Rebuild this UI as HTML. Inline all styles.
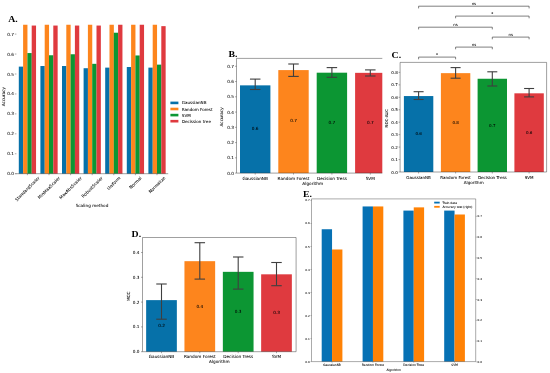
<!DOCTYPE html>
<html lang="en">
<head>
<meta charset="utf-8">
<title>Figure</title>
<style>
html,body{margin:0;padding:0;background:#fff;}
svg{display:block;}
text.s{font-family:"DejaVu Sans","Liberation Sans",sans-serif;stroke:#000;stroke-width:0.05px;text-rendering:geometricPrecision;}
text.b{font-family:"Liberation Serif","DejaVu Serif",serif;font-weight:bold;}
</style>
</head>
<body>
<svg width="550" height="373" viewBox="0 0 550 373">
<rect x="0" y="0" width="550" height="373" fill="#ffffff"/>
<g>
<g id="panelA">
<rect x="18.80" y="66.62" width="4.35" height="107.08" fill="#0671a9"/>
<rect x="23.10" y="24.75" width="4.35" height="148.95" fill="#fd851d"/>
<rect x="27.40" y="53.06" width="4.35" height="120.64" fill="#0c9633"/>
<rect x="31.70" y="25.55" width="4.35" height="148.15" fill="#df3a3f"/>
<rect x="40.40" y="66.02" width="4.35" height="107.68" fill="#0671a9"/>
<rect x="44.70" y="24.75" width="4.35" height="148.95" fill="#fd851d"/>
<rect x="49.00" y="55.26" width="4.35" height="118.44" fill="#0c9633"/>
<rect x="53.30" y="25.55" width="4.35" height="148.15" fill="#df3a3f"/>
<rect x="62.00" y="66.02" width="4.35" height="107.68" fill="#0671a9"/>
<rect x="66.30" y="24.75" width="4.35" height="148.95" fill="#fd851d"/>
<rect x="70.60" y="54.26" width="4.35" height="119.44" fill="#0c9633"/>
<rect x="74.90" y="25.55" width="4.35" height="148.15" fill="#df3a3f"/>
<rect x="83.60" y="68.22" width="4.35" height="105.48" fill="#0671a9"/>
<rect x="87.90" y="24.75" width="4.35" height="148.95" fill="#fd851d"/>
<rect x="92.20" y="63.83" width="4.35" height="109.87" fill="#0c9633"/>
<rect x="96.50" y="25.55" width="4.35" height="148.15" fill="#df3a3f"/>
<rect x="105.20" y="67.62" width="4.35" height="106.08" fill="#0671a9"/>
<rect x="109.50" y="24.75" width="4.35" height="148.95" fill="#fd851d"/>
<rect x="113.80" y="32.72" width="4.35" height="140.98" fill="#0c9633"/>
<rect x="118.10" y="24.75" width="4.35" height="148.95" fill="#df3a3f"/>
<rect x="126.80" y="67.02" width="4.35" height="106.68" fill="#0671a9"/>
<rect x="131.10" y="24.75" width="4.35" height="148.95" fill="#fd851d"/>
<rect x="135.40" y="55.46" width="4.35" height="118.24" fill="#0c9633"/>
<rect x="139.70" y="24.75" width="4.35" height="148.95" fill="#df3a3f"/>
<rect x="148.40" y="67.62" width="4.35" height="106.08" fill="#0671a9"/>
<rect x="152.70" y="24.75" width="4.35" height="148.95" fill="#fd851d"/>
<rect x="157.00" y="64.63" width="4.35" height="109.07" fill="#0c9633"/>
<rect x="161.30" y="26.14" width="4.35" height="147.56" fill="#df3a3f"/>
<line x1="15.50" y1="173.70" x2="168.20" y2="173.70" stroke="#2a2a2a" stroke-width="0.45"/>
<line x1="14.90" y1="173.70" x2="16.40" y2="173.70" stroke="#2a2a2a" stroke-width="0.4"/>
<text class="s" x="14.00" y="175.20" font-size="4.2" text-anchor="end" fill="#000">0.0</text>
<line x1="14.90" y1="153.76" x2="16.40" y2="153.76" stroke="#2a2a2a" stroke-width="0.4"/>
<text class="s" x="14.00" y="155.26" font-size="4.2" text-anchor="end" fill="#000">0.1</text>
<line x1="14.90" y1="133.82" x2="16.40" y2="133.82" stroke="#2a2a2a" stroke-width="0.4"/>
<text class="s" x="14.00" y="135.32" font-size="4.2" text-anchor="end" fill="#000">0.2</text>
<line x1="14.90" y1="113.88" x2="16.40" y2="113.88" stroke="#2a2a2a" stroke-width="0.4"/>
<text class="s" x="14.00" y="115.38" font-size="4.2" text-anchor="end" fill="#000">0.3</text>
<line x1="14.90" y1="93.94" x2="16.40" y2="93.94" stroke="#2a2a2a" stroke-width="0.4"/>
<text class="s" x="14.00" y="95.44" font-size="4.2" text-anchor="end" fill="#000">0.4</text>
<line x1="14.90" y1="74.00" x2="16.40" y2="74.00" stroke="#2a2a2a" stroke-width="0.4"/>
<text class="s" x="14.00" y="75.50" font-size="4.2" text-anchor="end" fill="#000">0.5</text>
<line x1="14.90" y1="54.06" x2="16.40" y2="54.06" stroke="#2a2a2a" stroke-width="0.4"/>
<text class="s" x="14.00" y="55.56" font-size="4.2" text-anchor="end" fill="#000">0.6</text>
<line x1="14.90" y1="34.12" x2="16.40" y2="34.12" stroke="#2a2a2a" stroke-width="0.4"/>
<text class="s" x="14.00" y="35.62" font-size="4.2" text-anchor="end" fill="#000">0.7</text>
<text class="s" x="4.90" y="96.70" font-size="4.2" text-anchor="middle" fill="#000" transform="rotate(-90 4.90 96.70)">Accuracy</text>
<line x1="27.40" y1="173.70" x2="27.40" y2="175.20" stroke="#2a2a2a" stroke-width="0.4"/>
<text class="s" x="39.90" y="178.40" font-size="4.25" text-anchor="end" fill="#000" transform="rotate(-45 39.90 178.40)">StandardScaler</text>
<line x1="49.00" y1="173.70" x2="49.00" y2="175.20" stroke="#2a2a2a" stroke-width="0.4"/>
<text class="s" x="60.43" y="178.40" font-size="4.25" text-anchor="end" fill="#000" transform="rotate(-45 60.43 178.40)">MinMaxScaler</text>
<line x1="70.60" y1="173.70" x2="70.60" y2="175.20" stroke="#2a2a2a" stroke-width="0.4"/>
<text class="s" x="82.13" y="178.40" font-size="4.25" text-anchor="end" fill="#000" transform="rotate(-45 82.13 178.40)">MaxAbsScaler</text>
<line x1="92.20" y1="173.70" x2="92.20" y2="175.20" stroke="#2a2a2a" stroke-width="0.4"/>
<text class="s" x="103.03" y="178.40" font-size="4.25" text-anchor="end" fill="#000" transform="rotate(-45 103.03 178.40)">RobustScaler</text>
<line x1="113.80" y1="173.70" x2="113.80" y2="175.20" stroke="#2a2a2a" stroke-width="0.4"/>
<text class="s" x="120.77" y="178.40" font-size="4.25" text-anchor="end" fill="#000" transform="rotate(-45 120.77 178.40)">Uniform</text>
<line x1="135.40" y1="173.70" x2="135.40" y2="175.20" stroke="#2a2a2a" stroke-width="0.4"/>
<text class="s" x="141.84" y="178.40" font-size="4.25" text-anchor="end" fill="#000" transform="rotate(-45 141.84 178.40)">Normal</text>
<line x1="157.00" y1="173.70" x2="157.00" y2="175.20" stroke="#2a2a2a" stroke-width="0.4"/>
<text class="s" x="165.57" y="178.40" font-size="4.25" text-anchor="end" fill="#000" transform="rotate(-45 165.57 178.40)">Normalize</text>
<text class="s" x="92.00" y="206.80" font-size="4.2" text-anchor="middle" fill="#000">Scaling method</text>
<rect x="170.40" y="101.60" width="8.00" height="2.60" fill="#0671a9"/>
<text class="s" x="181.80" y="104.40" font-size="4.1" text-anchor="start" fill="#000">GaussianNB</text>
<rect x="170.40" y="107.70" width="8.00" height="2.60" fill="#fd851d"/>
<text class="s" x="181.80" y="110.50" font-size="4.1" text-anchor="start" fill="#000">Random Forest</text>
<rect x="170.40" y="113.80" width="8.00" height="2.60" fill="#0c9633"/>
<text class="s" x="181.80" y="116.60" font-size="4.1" text-anchor="start" fill="#000">SVM</text>
<rect x="170.40" y="119.90" width="8.00" height="2.60" fill="#df3a3f"/>
<text class="s" x="181.80" y="122.70" font-size="4.1" text-anchor="start" fill="#000">Decission tree</text>
<text class="b" font-size="8.6" fill="#000" transform="translate(8.20 21.80) scale(1.14 1)">A.</text>
</g>
<g id="panelB">
<rect x="240.00" y="85.36" width="30.40" height="87.74" fill="#0671a9"/>
<line x1="255.20" y1="79.10" x2="255.20" y2="89.50" stroke="#3f3f3f" stroke-width="1.1"/>
<line x1="249.95" y1="79.10" x2="260.45" y2="79.10" stroke="#3f3f3f" stroke-width="1.1"/>
<line x1="249.95" y1="89.50" x2="260.45" y2="89.50" stroke="#3f3f3f" stroke-width="1.1"/>
<text class="s" x="255.20" y="130.03" font-size="4.2" text-anchor="middle" fill="#000">0.6</text>
<line x1="255.20" y1="173.10" x2="255.20" y2="174.60" stroke="#2a2a2a" stroke-width="0.4"/>
<text class="s" x="255.20" y="179.80" font-size="4.23" text-anchor="middle" fill="#000">GaussianNB</text>
<rect x="278.30" y="70.09" width="30.40" height="103.01" fill="#fd851d"/>
<line x1="293.50" y1="64.00" x2="293.50" y2="76.40" stroke="#3f3f3f" stroke-width="1.1"/>
<line x1="288.25" y1="64.00" x2="298.75" y2="64.00" stroke="#3f3f3f" stroke-width="1.1"/>
<line x1="288.25" y1="76.40" x2="298.75" y2="76.40" stroke="#3f3f3f" stroke-width="1.1"/>
<text class="s" x="293.50" y="122.40" font-size="4.2" text-anchor="middle" fill="#000">0.7</text>
<line x1="293.50" y1="173.10" x2="293.50" y2="174.60" stroke="#2a2a2a" stroke-width="0.4"/>
<text class="s" x="293.50" y="179.80" font-size="4.23" text-anchor="middle" fill="#000">Random Forest</text>
<rect x="316.70" y="72.69" width="30.40" height="100.41" fill="#0c9633"/>
<line x1="331.90" y1="67.60" x2="331.90" y2="77.30" stroke="#3f3f3f" stroke-width="1.1"/>
<line x1="326.65" y1="67.60" x2="337.15" y2="67.60" stroke="#3f3f3f" stroke-width="1.1"/>
<line x1="326.65" y1="77.30" x2="337.15" y2="77.30" stroke="#3f3f3f" stroke-width="1.1"/>
<text class="s" x="331.90" y="123.69" font-size="4.2" text-anchor="middle" fill="#000">0.7</text>
<line x1="331.90" y1="173.10" x2="331.90" y2="174.60" stroke="#2a2a2a" stroke-width="0.4"/>
<text class="s" x="331.90" y="179.80" font-size="4.23" text-anchor="middle" fill="#000">Decision Tress</text>
<rect x="355.10" y="72.84" width="27.20" height="100.26" fill="#df3a3f"/>
<line x1="370.30" y1="69.90" x2="370.30" y2="76.00" stroke="#3f3f3f" stroke-width="1.1"/>
<line x1="365.05" y1="69.90" x2="375.55" y2="69.90" stroke="#3f3f3f" stroke-width="1.1"/>
<line x1="365.05" y1="76.00" x2="375.55" y2="76.00" stroke="#3f3f3f" stroke-width="1.1"/>
<text class="s" x="370.30" y="123.77" font-size="4.2" text-anchor="middle" fill="#000">0.7</text>
<line x1="370.30" y1="173.10" x2="370.30" y2="174.60" stroke="#2a2a2a" stroke-width="0.4"/>
<text class="s" x="370.30" y="179.80" font-size="4.23" text-anchor="middle" fill="#000">SVM</text>
<line x1="236.50" y1="58.40" x2="382.30" y2="58.40" stroke="#2a2a2a" stroke-width="0.45"/>
<line x1="236.50" y1="173.10" x2="382.30" y2="173.10" stroke="#2a2a2a" stroke-width="0.45"/>
<line x1="236.50" y1="58.40" x2="236.50" y2="173.10" stroke="#2a2a2a" stroke-width="0.45"/>
<line x1="235.00" y1="173.10" x2="236.50" y2="173.10" stroke="#2a2a2a" stroke-width="0.4"/>
<text class="s" x="234.00" y="174.65" font-size="4.2" text-anchor="end" fill="#000">0.0</text>
<line x1="235.00" y1="157.84" x2="236.50" y2="157.84" stroke="#2a2a2a" stroke-width="0.4"/>
<text class="s" x="234.00" y="159.39" font-size="4.2" text-anchor="end" fill="#000">0.1</text>
<line x1="235.00" y1="142.58" x2="236.50" y2="142.58" stroke="#2a2a2a" stroke-width="0.4"/>
<text class="s" x="234.00" y="144.13" font-size="4.2" text-anchor="end" fill="#000">0.2</text>
<line x1="235.00" y1="127.32" x2="236.50" y2="127.32" stroke="#2a2a2a" stroke-width="0.4"/>
<text class="s" x="234.00" y="128.87" font-size="4.2" text-anchor="end" fill="#000">0.3</text>
<line x1="235.00" y1="112.06" x2="236.50" y2="112.06" stroke="#2a2a2a" stroke-width="0.4"/>
<text class="s" x="234.00" y="113.61" font-size="4.2" text-anchor="end" fill="#000">0.4</text>
<line x1="235.00" y1="96.80" x2="236.50" y2="96.80" stroke="#2a2a2a" stroke-width="0.4"/>
<text class="s" x="234.00" y="98.35" font-size="4.2" text-anchor="end" fill="#000">0.5</text>
<line x1="235.00" y1="81.54" x2="236.50" y2="81.54" stroke="#2a2a2a" stroke-width="0.4"/>
<text class="s" x="234.00" y="83.09" font-size="4.2" text-anchor="end" fill="#000">0.6</text>
<line x1="235.00" y1="66.28" x2="236.50" y2="66.28" stroke="#2a2a2a" stroke-width="0.4"/>
<text class="s" x="234.00" y="67.83" font-size="4.2" text-anchor="end" fill="#000">0.7</text>
<text class="s" x="222.80" y="116.90" font-size="4.2" text-anchor="middle" fill="#000" transform="rotate(-90 222.80 116.90)">Accuracy</text>
<text class="s" x="312.70" y="185.20" font-size="4.23" text-anchor="middle" fill="#000">Algorithm</text>
<text class="b" font-size="8.6" fill="#000" transform="translate(228.40 56.80) scale(1.14 1)">B.</text>
</g>
<g id="panelC">
<rect x="403.90" y="96.06" width="29.40" height="75.94" fill="#0671a9"/>
<line x1="418.60" y1="91.70" x2="418.60" y2="99.50" stroke="#3f3f3f" stroke-width="1.1"/>
<line x1="413.60" y1="91.70" x2="423.60" y2="91.70" stroke="#3f3f3f" stroke-width="1.1"/>
<line x1="413.60" y1="99.50" x2="423.60" y2="99.50" stroke="#3f3f3f" stroke-width="1.1"/>
<text class="s" x="418.60" y="135.43" font-size="4.05" text-anchor="middle" fill="#000">0.6</text>
<line x1="418.60" y1="172.00" x2="418.60" y2="173.50" stroke="#2a2a2a" stroke-width="0.4"/>
<text class="s" x="418.60" y="178.80" font-size="4.07" text-anchor="middle" fill="#000">GaussianNB</text>
<rect x="440.90" y="73.15" width="29.40" height="98.85" fill="#fd851d"/>
<line x1="455.60" y1="67.60" x2="455.60" y2="78.20" stroke="#3f3f3f" stroke-width="1.1"/>
<line x1="450.60" y1="67.60" x2="460.60" y2="67.60" stroke="#3f3f3f" stroke-width="1.1"/>
<line x1="450.60" y1="78.20" x2="460.60" y2="78.20" stroke="#3f3f3f" stroke-width="1.1"/>
<text class="s" x="455.60" y="123.97" font-size="4.05" text-anchor="middle" fill="#000">0.8</text>
<line x1="455.60" y1="172.00" x2="455.60" y2="173.50" stroke="#2a2a2a" stroke-width="0.4"/>
<text class="s" x="455.60" y="178.80" font-size="4.07" text-anchor="middle" fill="#000">Random Forest</text>
<rect x="477.60" y="78.75" width="29.40" height="93.25" fill="#0c9633"/>
<line x1="492.30" y1="71.80" x2="492.30" y2="86.00" stroke="#3f3f3f" stroke-width="1.1"/>
<line x1="487.30" y1="71.80" x2="497.30" y2="71.80" stroke="#3f3f3f" stroke-width="1.1"/>
<line x1="487.30" y1="86.00" x2="497.30" y2="86.00" stroke="#3f3f3f" stroke-width="1.1"/>
<text class="s" x="492.30" y="126.77" font-size="4.05" text-anchor="middle" fill="#000">0.7</text>
<line x1="492.30" y1="172.00" x2="492.30" y2="173.50" stroke="#2a2a2a" stroke-width="0.4"/>
<text class="s" x="492.30" y="178.80" font-size="4.07" text-anchor="middle" fill="#000">Decision Tress</text>
<rect x="514.40" y="93.32" width="29.40" height="78.68" fill="#df3a3f"/>
<line x1="529.10" y1="88.50" x2="529.10" y2="96.90" stroke="#3f3f3f" stroke-width="1.1"/>
<line x1="524.10" y1="88.50" x2="534.10" y2="88.50" stroke="#3f3f3f" stroke-width="1.1"/>
<line x1="524.10" y1="96.90" x2="534.10" y2="96.90" stroke="#3f3f3f" stroke-width="1.1"/>
<text class="s" x="529.10" y="134.06" font-size="4.05" text-anchor="middle" fill="#000">0.6</text>
<line x1="529.10" y1="172.00" x2="529.10" y2="173.50" stroke="#2a2a2a" stroke-width="0.4"/>
<text class="s" x="529.10" y="178.80" font-size="4.07" text-anchor="middle" fill="#000">SVM</text>
<line x1="400.10" y1="62.40" x2="546.60" y2="62.40" stroke="#2a2a2a" stroke-width="0.45"/>
<line x1="400.10" y1="172.00" x2="546.60" y2="172.00" stroke="#2a2a2a" stroke-width="0.45"/>
<line x1="400.10" y1="62.40" x2="400.10" y2="172.00" stroke="#2a2a2a" stroke-width="0.45"/>
<line x1="546.60" y1="62.40" x2="546.60" y2="172.00" stroke="#2a2a2a" stroke-width="0.45"/>
<line x1="398.60" y1="172.00" x2="400.10" y2="172.00" stroke="#2a2a2a" stroke-width="0.4"/>
<text class="s" x="397.80" y="173.50" font-size="4.05" text-anchor="end" fill="#000">0.0</text>
<line x1="398.60" y1="159.55" x2="400.10" y2="159.55" stroke="#2a2a2a" stroke-width="0.4"/>
<text class="s" x="397.80" y="161.05" font-size="4.05" text-anchor="end" fill="#000">0.1</text>
<line x1="398.60" y1="147.10" x2="400.10" y2="147.10" stroke="#2a2a2a" stroke-width="0.4"/>
<text class="s" x="397.80" y="148.60" font-size="4.05" text-anchor="end" fill="#000">0.2</text>
<line x1="398.60" y1="134.65" x2="400.10" y2="134.65" stroke="#2a2a2a" stroke-width="0.4"/>
<text class="s" x="397.80" y="136.15" font-size="4.05" text-anchor="end" fill="#000">0.3</text>
<line x1="398.60" y1="122.20" x2="400.10" y2="122.20" stroke="#2a2a2a" stroke-width="0.4"/>
<text class="s" x="397.80" y="123.70" font-size="4.05" text-anchor="end" fill="#000">0.4</text>
<line x1="398.60" y1="109.75" x2="400.10" y2="109.75" stroke="#2a2a2a" stroke-width="0.4"/>
<text class="s" x="397.80" y="111.25" font-size="4.05" text-anchor="end" fill="#000">0.5</text>
<line x1="398.60" y1="97.30" x2="400.10" y2="97.30" stroke="#2a2a2a" stroke-width="0.4"/>
<text class="s" x="397.80" y="98.80" font-size="4.05" text-anchor="end" fill="#000">0.6</text>
<line x1="398.60" y1="84.85" x2="400.10" y2="84.85" stroke="#2a2a2a" stroke-width="0.4"/>
<text class="s" x="397.80" y="86.35" font-size="4.05" text-anchor="end" fill="#000">0.7</text>
<line x1="398.60" y1="72.40" x2="400.10" y2="72.40" stroke="#2a2a2a" stroke-width="0.4"/>
<text class="s" x="397.80" y="73.90" font-size="4.05" text-anchor="end" fill="#000">0.8</text>
<text class="s" x="387.90" y="118.10" font-size="4.0" text-anchor="middle" fill="#000" transform="rotate(-90 387.90 118.10)">ROC-AUC</text>
<text class="s" x="473.70" y="183.60" font-size="4.07" text-anchor="middle" fill="#000">Algorithm</text>
<text class="b" font-size="8.6" fill="#000" transform="translate(391.60 57.90) scale(1.14 1)">C.</text>
<path d="M418.60 8.40V6.20H529.10V8.40" fill="none" stroke="#3a3a3a" stroke-width="0.65"/>
<text class="s" x="473.85" y="4.80" font-size="3.8" text-anchor="middle" fill="#000">ns</text>
<path d="M455.60 18.30V16.10H529.10V18.30" fill="none" stroke="#3a3a3a" stroke-width="0.65"/>
<text class="s" x="492.35" y="14.90" font-size="4.0" text-anchor="middle" fill="#000">*</text>
<path d="M418.60 29.40V27.20H492.30V29.40" fill="none" stroke="#3a3a3a" stroke-width="0.65"/>
<text class="s" x="455.45" y="25.80" font-size="3.8" text-anchor="middle" fill="#000">ns</text>
<path d="M492.30 39.30V37.10H529.10V39.30" fill="none" stroke="#3a3a3a" stroke-width="0.65"/>
<text class="s" x="510.70" y="35.70" font-size="3.8" text-anchor="middle" fill="#000">ns</text>
<path d="M455.60 49.30V47.10H492.30V49.30" fill="none" stroke="#3a3a3a" stroke-width="0.65"/>
<text class="s" x="473.95" y="45.70" font-size="3.8" text-anchor="middle" fill="#000">ns</text>
<path d="M418.60 59.30V57.10H455.60V59.30" fill="none" stroke="#3a3a3a" stroke-width="0.65"/>
<text class="s" x="437.10" y="55.90" font-size="4.0" text-anchor="middle" fill="#000">*</text>
</g>
<g id="panelD">
<rect x="146.15" y="300.12" width="30.70" height="51.58" fill="#0671a9"/>
<line x1="161.50" y1="284.00" x2="161.50" y2="319.20" stroke="#3f3f3f" stroke-width="1.1"/>
<line x1="156.25" y1="284.00" x2="166.75" y2="284.00" stroke="#3f3f3f" stroke-width="1.1"/>
<line x1="156.25" y1="319.20" x2="166.75" y2="319.20" stroke="#3f3f3f" stroke-width="1.1"/>
<text class="s" x="161.50" y="327.31" font-size="4.2" text-anchor="middle" fill="#000">0.2</text>
<line x1="161.50" y1="351.70" x2="161.50" y2="353.20" stroke="#2a2a2a" stroke-width="0.4"/>
<text class="s" x="161.50" y="358.20" font-size="4.23" text-anchor="middle" fill="#000">GaussianNB</text>
<rect x="184.45" y="261.18" width="30.70" height="90.52" fill="#fd851d"/>
<line x1="199.80" y1="242.70" x2="199.80" y2="279.10" stroke="#3f3f3f" stroke-width="1.1"/>
<line x1="194.55" y1="242.70" x2="205.05" y2="242.70" stroke="#3f3f3f" stroke-width="1.1"/>
<line x1="194.55" y1="279.10" x2="205.05" y2="279.10" stroke="#3f3f3f" stroke-width="1.1"/>
<text class="s" x="199.80" y="307.84" font-size="4.2" text-anchor="middle" fill="#000">0.4</text>
<line x1="199.80" y1="351.70" x2="199.80" y2="353.20" stroke="#2a2a2a" stroke-width="0.4"/>
<text class="s" x="199.80" y="358.20" font-size="4.23" text-anchor="middle" fill="#000">Random Forest</text>
<rect x="222.85" y="271.84" width="30.70" height="79.86" fill="#0c9633"/>
<line x1="238.20" y1="257.00" x2="238.20" y2="289.10" stroke="#3f3f3f" stroke-width="1.1"/>
<line x1="232.95" y1="257.00" x2="243.45" y2="257.00" stroke="#3f3f3f" stroke-width="1.1"/>
<line x1="232.95" y1="289.10" x2="243.45" y2="289.10" stroke="#3f3f3f" stroke-width="1.1"/>
<text class="s" x="238.20" y="313.17" font-size="4.2" text-anchor="middle" fill="#000">0.3</text>
<line x1="238.20" y1="351.70" x2="238.20" y2="353.20" stroke="#2a2a2a" stroke-width="0.4"/>
<text class="s" x="238.20" y="358.20" font-size="4.23" text-anchor="middle" fill="#000">Decision Tress</text>
<rect x="261.15" y="274.32" width="30.70" height="77.38" fill="#df3a3f"/>
<line x1="276.50" y1="262.50" x2="276.50" y2="285.70" stroke="#3f3f3f" stroke-width="1.1"/>
<line x1="271.25" y1="262.50" x2="281.75" y2="262.50" stroke="#3f3f3f" stroke-width="1.1"/>
<line x1="271.25" y1="285.70" x2="281.75" y2="285.70" stroke="#3f3f3f" stroke-width="1.1"/>
<text class="s" x="276.50" y="314.41" font-size="4.2" text-anchor="middle" fill="#000">0.3</text>
<line x1="276.50" y1="351.70" x2="276.50" y2="353.20" stroke="#2a2a2a" stroke-width="0.4"/>
<text class="s" x="276.50" y="358.20" font-size="4.23" text-anchor="middle" fill="#000">SVM</text>
<line x1="142.50" y1="237.50" x2="296.10" y2="237.50" stroke="#2a2a2a" stroke-width="0.45"/>
<line x1="142.50" y1="351.70" x2="296.10" y2="351.70" stroke="#2a2a2a" stroke-width="0.45"/>
<line x1="142.50" y1="237.50" x2="142.50" y2="351.70" stroke="#2a2a2a" stroke-width="0.45"/>
<line x1="296.10" y1="237.50" x2="296.10" y2="351.70" stroke="#2a2a2a" stroke-width="0.45"/>
<line x1="141.00" y1="351.70" x2="142.50" y2="351.70" stroke="#2a2a2a" stroke-width="0.4"/>
<text class="s" x="139.50" y="353.25" font-size="4.2" text-anchor="end" fill="#000">0.0</text>
<line x1="141.00" y1="326.90" x2="142.50" y2="326.90" stroke="#2a2a2a" stroke-width="0.4"/>
<text class="s" x="139.50" y="328.45" font-size="4.2" text-anchor="end" fill="#000">0.1</text>
<line x1="141.00" y1="302.10" x2="142.50" y2="302.10" stroke="#2a2a2a" stroke-width="0.4"/>
<text class="s" x="139.50" y="303.65" font-size="4.2" text-anchor="end" fill="#000">0.2</text>
<line x1="141.00" y1="277.30" x2="142.50" y2="277.30" stroke="#2a2a2a" stroke-width="0.4"/>
<text class="s" x="139.50" y="278.85" font-size="4.2" text-anchor="end" fill="#000">0.3</text>
<line x1="141.00" y1="252.50" x2="142.50" y2="252.50" stroke="#2a2a2a" stroke-width="0.4"/>
<text class="s" x="139.50" y="254.05" font-size="4.2" text-anchor="end" fill="#000">0.4</text>
<text class="s" x="129.80" y="296.30" font-size="4.2" text-anchor="middle" fill="#000" transform="rotate(-90 129.80 296.30)">MCC</text>
<text class="s" x="219.30" y="363.20" font-size="4.23" text-anchor="middle" fill="#000">Algorithm</text>
<text class="b" font-size="8.6" fill="#000" transform="translate(131.60 236.50) scale(1.14 1)">D.</text>
</g>
<g id="panelE">
<rect x="321.70" y="229.24" width="10.35" height="132.36" fill="#0671b4"/>
<rect x="332.05" y="249.49" width="10.35" height="112.11" fill="#ff8205"/>
<line x1="332.05" y1="361.60" x2="332.05" y2="362.70" stroke="#2a2a2a" stroke-width="0.3"/>
<text class="s" x="332.05" y="366.30" font-size="2.95" text-anchor="middle" fill="#000">GaussianNB</text>
<rect x="362.60" y="206.45" width="10.35" height="155.15" fill="#0671b4"/>
<rect x="372.95" y="206.45" width="10.35" height="155.15" fill="#ff8205"/>
<line x1="372.95" y1="361.60" x2="372.95" y2="362.70" stroke="#2a2a2a" stroke-width="0.3"/>
<text class="s" x="372.95" y="366.30" font-size="2.95" text-anchor="middle" fill="#000">Random Forest</text>
<rect x="403.40" y="210.59" width="10.35" height="151.01" fill="#0671b4"/>
<rect x="413.75" y="207.37" width="10.35" height="154.23" fill="#ff8205"/>
<line x1="413.75" y1="361.60" x2="413.75" y2="362.70" stroke="#2a2a2a" stroke-width="0.3"/>
<text class="s" x="413.75" y="366.30" font-size="2.95" text-anchor="middle" fill="#000">Decision Tress</text>
<rect x="444.20" y="210.59" width="10.35" height="151.01" fill="#0671b4"/>
<rect x="454.55" y="214.50" width="10.35" height="147.10" fill="#ff8205"/>
<line x1="454.55" y1="361.60" x2="454.55" y2="362.70" stroke="#2a2a2a" stroke-width="0.3"/>
<text class="s" x="454.55" y="366.30" font-size="2.95" text-anchor="middle" fill="#000">SVM</text>
<line x1="311.50" y1="198.90" x2="475.70" y2="198.90" stroke="#2a2a2a" stroke-width="0.4"/>
<line x1="311.50" y1="361.60" x2="475.70" y2="361.60" stroke="#2a2a2a" stroke-width="0.4"/>
<line x1="311.50" y1="198.90" x2="311.50" y2="361.60" stroke="#2a2a2a" stroke-width="0.4"/>
<line x1="475.70" y1="198.90" x2="475.70" y2="361.60" stroke="#2a2a2a" stroke-width="0.4"/>
<line x1="310.40" y1="361.60" x2="311.50" y2="361.60" stroke="#2a2a2a" stroke-width="0.3"/>
<text class="s" x="309.80" y="362.60" font-size="2.8" text-anchor="end" fill="#000">0.0</text>
<line x1="475.80" y1="361.90" x2="476.90" y2="361.90" stroke="#2a2a2a" stroke-width="0.3"/>
<text class="s" x="477.60" y="362.90" font-size="2.8" text-anchor="start" fill="#000">0.0</text>
<line x1="310.40" y1="338.58" x2="311.50" y2="338.58" stroke="#2a2a2a" stroke-width="0.3"/>
<text class="s" x="309.80" y="339.58" font-size="2.8" text-anchor="end" fill="#000">0.1</text>
<line x1="475.80" y1="341.10" x2="476.90" y2="341.10" stroke="#2a2a2a" stroke-width="0.3"/>
<text class="s" x="477.60" y="342.10" font-size="2.8" text-anchor="start" fill="#000">0.1</text>
<line x1="310.40" y1="315.56" x2="311.50" y2="315.56" stroke="#2a2a2a" stroke-width="0.3"/>
<text class="s" x="309.80" y="316.56" font-size="2.8" text-anchor="end" fill="#000">0.2</text>
<line x1="475.80" y1="320.30" x2="476.90" y2="320.30" stroke="#2a2a2a" stroke-width="0.3"/>
<text class="s" x="477.60" y="321.30" font-size="2.8" text-anchor="start" fill="#000">0.2</text>
<line x1="310.40" y1="292.54" x2="311.50" y2="292.54" stroke="#2a2a2a" stroke-width="0.3"/>
<text class="s" x="309.80" y="293.54" font-size="2.8" text-anchor="end" fill="#000">0.3</text>
<line x1="475.80" y1="299.50" x2="476.90" y2="299.50" stroke="#2a2a2a" stroke-width="0.3"/>
<text class="s" x="477.60" y="300.50" font-size="2.8" text-anchor="start" fill="#000">0.3</text>
<line x1="310.40" y1="269.52" x2="311.50" y2="269.52" stroke="#2a2a2a" stroke-width="0.3"/>
<text class="s" x="309.80" y="270.52" font-size="2.8" text-anchor="end" fill="#000">0.4</text>
<line x1="475.80" y1="278.70" x2="476.90" y2="278.70" stroke="#2a2a2a" stroke-width="0.3"/>
<text class="s" x="477.60" y="279.70" font-size="2.8" text-anchor="start" fill="#000">0.4</text>
<line x1="310.40" y1="246.50" x2="311.50" y2="246.50" stroke="#2a2a2a" stroke-width="0.3"/>
<text class="s" x="309.80" y="247.50" font-size="2.8" text-anchor="end" fill="#000">0.5</text>
<line x1="475.80" y1="257.90" x2="476.90" y2="257.90" stroke="#2a2a2a" stroke-width="0.3"/>
<text class="s" x="477.60" y="258.90" font-size="2.8" text-anchor="start" fill="#000">0.5</text>
<line x1="310.40" y1="223.48" x2="311.50" y2="223.48" stroke="#2a2a2a" stroke-width="0.3"/>
<text class="s" x="309.80" y="224.48" font-size="2.8" text-anchor="end" fill="#000">0.6</text>
<line x1="475.80" y1="237.10" x2="476.90" y2="237.10" stroke="#2a2a2a" stroke-width="0.3"/>
<text class="s" x="477.60" y="238.10" font-size="2.8" text-anchor="start" fill="#000">0.6</text>
<line x1="310.40" y1="200.46" x2="311.50" y2="200.46" stroke="#2a2a2a" stroke-width="0.3"/>
<text class="s" x="309.80" y="201.46" font-size="2.8" text-anchor="end" fill="#000">0.7</text>
<line x1="475.80" y1="216.30" x2="476.90" y2="216.30" stroke="#2a2a2a" stroke-width="0.3"/>
<text class="s" x="477.60" y="217.30" font-size="2.8" text-anchor="start" fill="#000">0.7</text>
<text class="s" x="393.60" y="370.70" font-size="2.95" text-anchor="middle" fill="#000">Algorithm</text>
<rect x="434.20" y="201.70" width="5.50" height="1.80" fill="#0671b4"/>
<rect x="434.20" y="205.90" width="5.50" height="1.80" fill="#ff8205"/>
<text class="s" x="442.40" y="203.70" font-size="2.95" text-anchor="start" fill="#000">Train data</text>
<text class="s" x="442.40" y="207.90" font-size="2.95" text-anchor="start" fill="#000">Accuracy test (right)</text>
<text class="b" font-size="8.6" fill="#000" transform="translate(303.00 196.80) scale(1.14 1)">E.</text>
</g>
</g>
</svg>
</body>
</html>
